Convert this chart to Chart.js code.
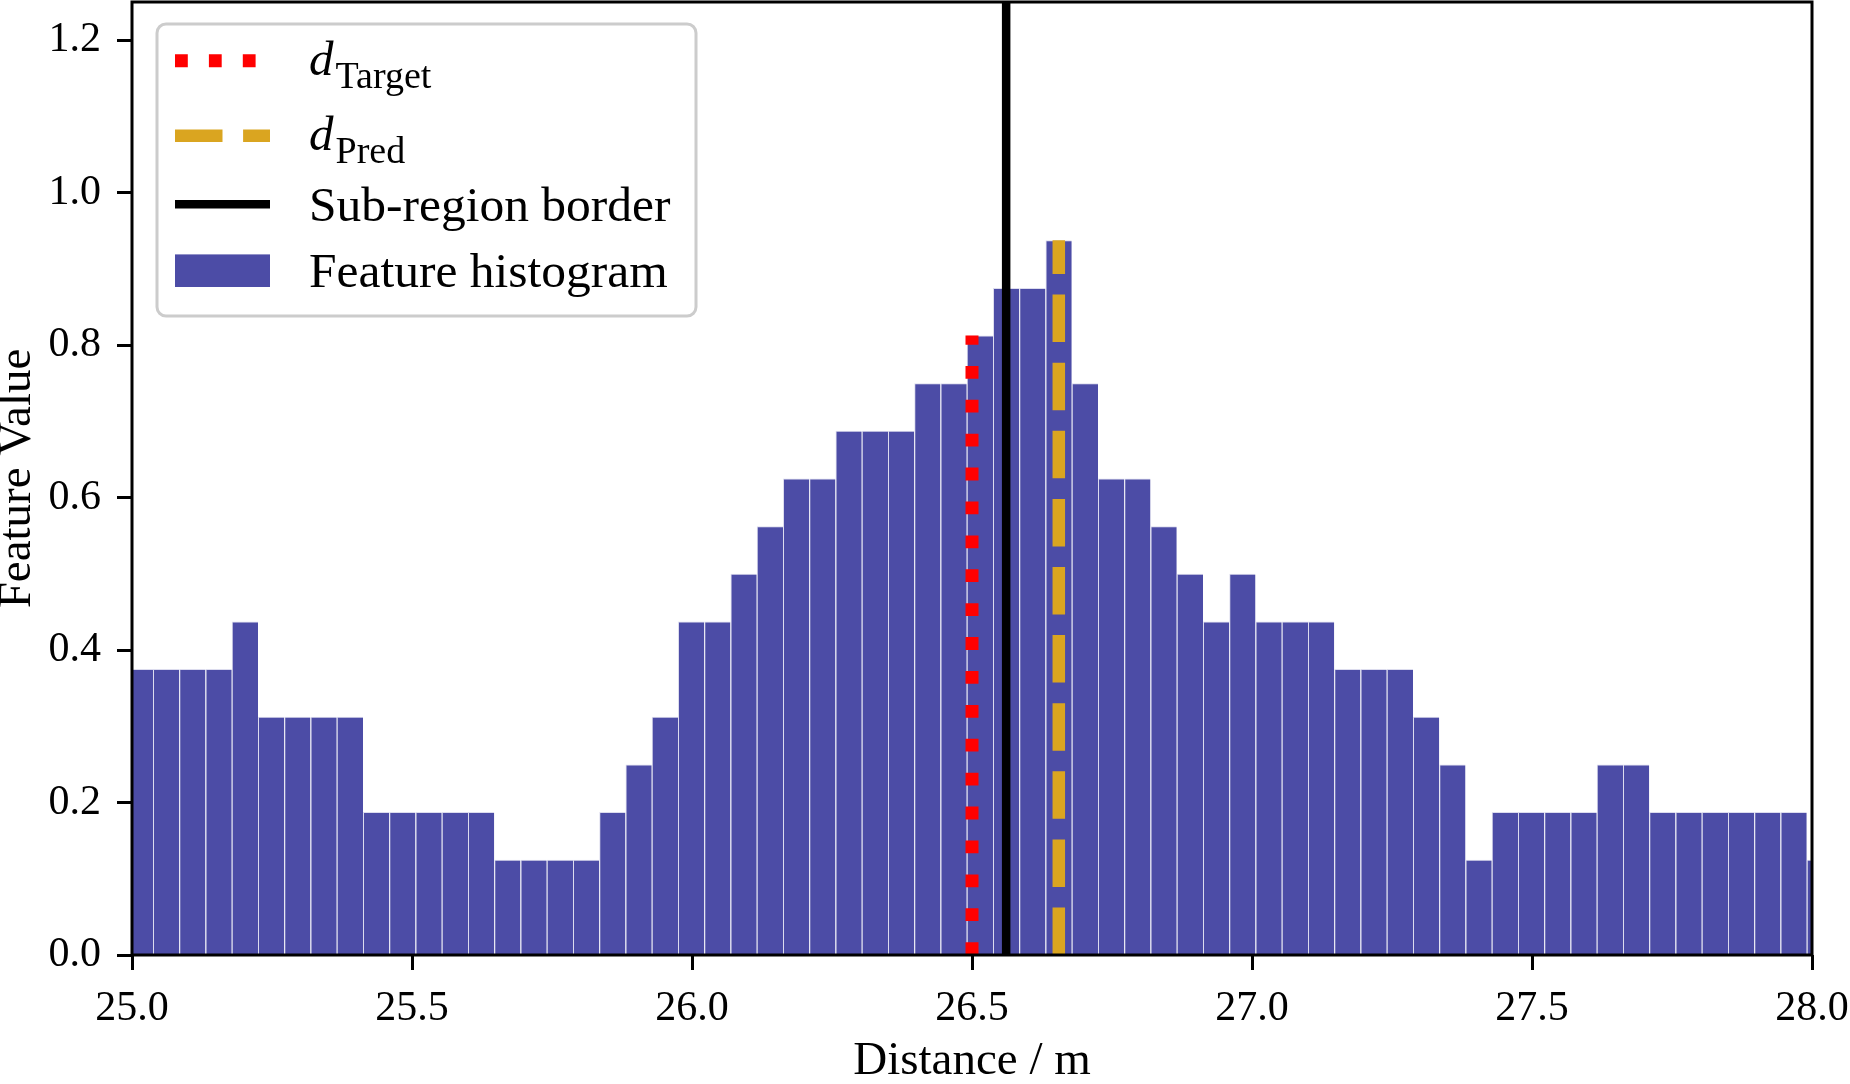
<!DOCTYPE html>
<html>
<head>
<meta charset="utf-8">
<title>Feature histogram</title>
<script src="https://cdn.jsdelivr.net/npm/chart.js@4"></script>
<style>
  html, body { margin: 0; padding: 0; background: #fff; }
  .contenedor { width: 1850px; height: 1084px; }
</style>
</head>
<body>
<div class="contenedor"><canvas class="miGrafica" width="1850" height="1084"></canvas></div>
<script>
// centro de cada barra del histograma (m)
const centros = [
  25.0140625, 25.0609375, 25.1078125, 25.1546875, 25.2015625, 25.2484375, 25.2953125, 25.3421875,
  25.3890625, 25.4359375, 25.4828125, 25.5296875, 25.5765625, 25.6234375, 25.6703125, 25.7171875,
  25.7640625, 25.8109375, 25.8578125, 25.9046875, 25.9515625, 25.9984375, 26.0453125, 26.0921875,
  26.1390625, 26.1859375, 26.2328125, 26.2796875, 26.3265625, 26.3734375, 26.4203125, 26.4671875,
  26.5140625, 26.5609375, 26.6078125, 26.6546875, 26.7015625, 26.7484375, 26.7953125, 26.8421875,
  26.8890625, 26.9359375, 26.9828125, 27.0296875, 27.0765625, 27.1234375, 27.1703125, 27.2171875,
  27.2640625, 27.3109375, 27.3578125, 27.4046875, 27.4515625, 27.4984375, 27.5453125, 27.5921875,
  27.6390625, 27.6859375, 27.7328125, 27.7796875, 27.8265625, 27.8734375, 27.9203125, 27.9671875,
  28.0140625
];
// altura de cada barra
const valores = [
  0.375, 0.375, 0.375, 0.375, 0.4375, 0.3125, 0.3125, 0.3125,
  0.3125, 0.1875, 0.1875, 0.1875, 0.1875, 0.1875, 0.125, 0.125,
  0.125, 0.125, 0.1875, 0.25, 0.3125, 0.4375, 0.4375, 0.5,
  0.5625, 0.625, 0.625, 0.6875, 0.6875, 0.6875, 0.75, 0.75,
  0.8125, 0.875, 0.875, 0.9375, 0.75, 0.625, 0.625, 0.5625,
  0.5, 0.4375, 0.5, 0.4375, 0.4375, 0.4375, 0.375, 0.375,
  0.375, 0.3125, 0.25, 0.125, 0.1875, 0.1875, 0.1875, 0.1875,
  0.25, 0.25, 0.1875, 0.1875, 0.1875, 0.1875, 0.1875, 0.1875,
  0.125
];
const ticksX = [25.0, 25.5, 26.0, 26.5, 27.0, 27.5, 28.0];
const ticksY = [0.0, 0.2, 0.4, 0.6, 0.8, 1.0, 1.2];

const dTarget = [26.5, 0.8125];     // posicion y altura
const dPred = [26.655, 0.9375];
const bordeSubregion = 26.561;
const limiteY = 1.25;

let miGrafica = null;
Chart.defaults.font.family = "'Liberation Serif', 'Times New Roman', serif";
Chart.defaults.color = '#000';

// marco negro alrededor del area (como los spines de matplotlib)
const marco = {
  id: 'marco',
  afterDatasetsDraw(chart) {
    const ctx = chart.ctx, a = chart.chartArea;
    ctx.save();
    ctx.lineWidth = 3;
    ctx.strokeStyle = '#000';
    ctx.strokeRect(a.left, a.top, a.right - a.left, a.bottom - a.top);
    ctx.restore();
  }
};

// leyenda dibujada a mano (para el subindice de d)
const leyenda = {
  id: 'leyenda',
  afterDraw(chart) {
    const ctx = chart.ctx, a = chart.chartArea;
    const x0 = a.left + 25, y0 = a.top + 22;
    ctx.save();
    ctx.beginPath();
    ctx.roundRect(x0, y0, 539, 292, 9);
    ctx.fillStyle = 'rgba(255,255,255,0.8)';
    ctx.fill();
    ctx.lineWidth = 3;
    ctx.strokeStyle = '#cccccc';
    ctx.stroke();

    const centrosFila = [58.7, 133.7, 202.3, 268.7];
    const basesTexto = [73, 148, 219.2, 284.7];
    const hx0 = a.left + 43, hx1 = a.left + 138, tx = a.left + 177;
    chart.data.datasets.forEach((ds, i) => {
      const yc = a.top + centrosFila[i];
      if (ds.type === 'line') {
        ctx.beginPath();
        ctx.setLineDash(ds.borderDash || []);
        ctx.lineWidth = ds.borderWidth;
        ctx.strokeStyle = ds.borderColor;
        ctx.lineCap = 'butt';
        ctx.moveTo(hx0, yc);
        ctx.lineTo(hx1, yc);
        ctx.stroke();
        ctx.setLineDash([]);
      } else {
        ctx.fillStyle = ds.backgroundColor;
        ctx.fillRect(hx0, yc - 16.3, hx1 - hx0, 32.6);
      }
      const yb = a.top + basesTexto[i];
      ctx.fillStyle = '#000';
      ctx.textBaseline = 'alphabetic';
      ctx.textAlign = 'left';
      const partes = ds.label.split('_');
      if (partes.length > 1) {
        ctx.font = "italic 49px 'Liberation Serif', serif";
        ctx.fillText(partes[0], tx, yb);
        const ancho = ctx.measureText(partes[0]).width;
        ctx.font = "38px 'Liberation Serif', serif";
        ctx.fillText(partes[1], tx + ancho + 2, yb + 13);
      } else {
        ctx.font = "49.5px 'Liberation Serif', serif";
        ctx.fillText(ds.label, tx, yb);
      }
    });
    ctx.restore();
  }
};

dibujarGrafica(centros, valores);

function dibujarGrafica(centros, valores) {
  let hoja = document.querySelector('.miGrafica').getContext('2d');
  if (miGrafica) {
    miGrafica.destroy();
  }
  miGrafica = new Chart(hoja, {
    type: 'bar',
    data: {
      datasets: [
        {
          type: 'line',
          label: 'd_Target',
          data: [{x: dTarget[0], y: 0}, {x: dTarget[0], y: dTarget[1]}],
          borderColor: '#ff0000',
          borderWidth: 13,
          borderDash: [12.8, 21.1],
          pointRadius: 0,
          order: 1
        },
        {
          type: 'line',
          label: 'd_Pred',
          data: [{x: dPred[0], y: 0}, {x: dPred[0], y: dPred[1]}],
          borderColor: '#daa520',
          borderWidth: 12.5,
          borderDash: [47.5, 20.6],
          pointRadius: 0,
          order: 2
        },
        {
          type: 'line',
          label: 'Sub-region border',
          data: [{x: bordeSubregion, y: 0}, {x: bordeSubregion, y: limiteY}],
          borderColor: '#000000',
          borderWidth: 8.5,
          pointRadius: 0,
          order: 3
        },
        {
          type: 'bar',
          label: 'Feature histogram',
          data: centros.map((c, i) => ({x: c, y: valores[i]})),
          backgroundColor: 'rgba(0, 0, 128, 0.7)',
          borderColor: '#dcdcee',
          borderWidth: {left: 1, top: 1, right: 0, bottom: 0},
          barPercentage: 1,
          categoryPercentage: 1,
          inflateAmount: 0,
          order: 4
        }
      ]
    },
    options: {
      responsive: false,
      animation: false,
      layout: { padding: {left: 0, right: 38, top: 2, bottom: 0} },
      plugins: {
        legend: { display: false },
        tooltip: { enabled: false }
      },
      scales: {
        x: {
          type: 'linear',
          min: 25,
          max: 28,
          offset: false,
          afterBuildTicks: eje => { eje.ticks = ticksX.map(v => ({value: v})); },
          afterFit: eje => {
            eje.height = 129;
            eje.paddingLeft = 0;
            eje.paddingRight = 0;
          },
          ticks: {
            callback: v => v.toFixed(1),
            font: {size: 42},
            color: '#000',
            padding: 14,
            maxRotation: 0,
            autoSkip: false
          },
          grid: { offset: false, drawOnChartArea: false, drawTicks: true, tickLength: 15, tickWidth: 3, tickColor: '#000' },
          border: { display: false },
          title: { display: true, text: 'Distance / m', font: {size: 47, lineHeight: 0.95}, color: '#000', padding: 0 }
        },
        y: {
          min: 0,
          max: limiteY,
          afterBuildTicks: eje => { eje.ticks = ticksY.map(v => ({value: v})); },
          afterFit: eje => {
            eje.width = 132;
            eje.paddingTop = 0;
            eje.paddingBottom = 0;
          },
          ticks: {
            callback: v => v.toFixed(1),
            font: {size: 42},
            color: '#000',
            padding: 16
          },
          grid: { drawOnChartArea: false, drawTicks: true, tickLength: 15, tickWidth: 3, tickColor: '#000' },
          border: { display: false },
          title: { display: true, text: 'Feature Value', font: {size: 47, lineHeight: 0.75}, color: '#000', padding: 0 }
        }
      }
    },
    plugins: [marco, leyenda]
  });
}
</script>
</body>
</html>
